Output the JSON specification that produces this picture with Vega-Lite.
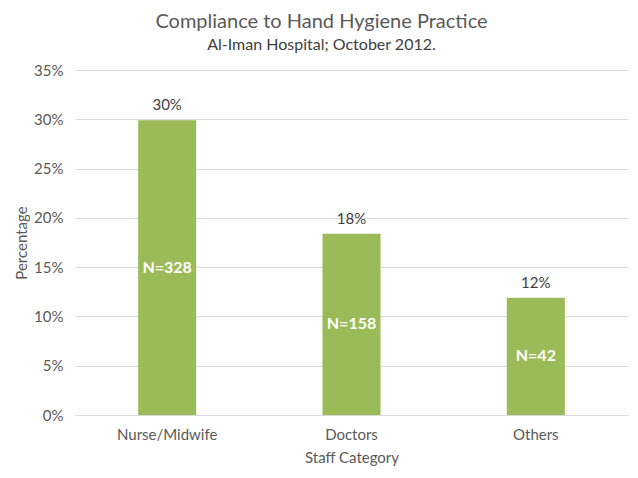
{
  "$schema": "https://vega.github.io/schema/vega-lite/v6.json",
  "autosize": "none",
  "width": 553,
  "height": 345,
  "padding": {"left": 75, "top": 70, "right": 10, "bottom": 63},
  "background": "white",
  "config": {
    "font": "Lato",
    "view": {"stroke": null}
  },
  "title": {
    "text": "Compliance to Hand Hygiene Practice",
    "subtitle": "Al-Iman Hospital; October 2012.",
    "font": "Lato",
    "fontSize": 20,
    "fontWeight": "normal",
    "color": "#595959",
    "subtitleFont": "Lato",
    "subtitleFontSize": 16,
    "subtitleColor": "#404040",
    "subtitlePadding": 5,
    "anchor": "middle",
    "dx": -30,
    "offset": 10
  },
  "data": {
    "values": [
      {"category": "Nurse/Midwife", "pct": 0.299, "n": "N=328"},
      {"category": "Doctors", "pct": 0.184, "n": "N=158"},
      {"category": "Others", "pct": 0.119, "n": "N=42"}
    ]
  },
  "encoding": {
    "x": {
      "field": "category",
      "type": "nominal",
      "sort": null,
      "title": "Staff Category",
      "scale": {"paddingInner": 0.685, "paddingOuter": 0.3425},
      "axis": {
        "labelAngle": 0,
        "labelFont": "Lato",
        "labelFontSize": 15,
        "labelColor": "#595959",
        "labelPadding": 12,
        "ticks": false,
        "domainColor": "#d9d9d9",
        "titleFont": "Lato",
        "titleFontSize": 15,
        "titleFontWeight": "normal",
        "titleColor": "#595959",
        "titlePadding": 8
      }
    }
  },
  "layer": [
    {
      "mark": {"type": "bar", "color": "#9bbb59"},
      "encoding": {
        "y": {
          "field": "pct",
          "type": "quantitative",
          "title": "Percentage",
          "scale": {"domain": [0, 0.35]},
          "axis": {
            "values": [0, 0.05, 0.1, 0.15, 0.2, 0.25, 0.3, 0.35],
            "format": ".0%",
            "labelFont": "Lato",
            "labelFontSize": 15,
            "labelColor": "#595959",
            "labelPadding": 12,
            "ticks": false,
            "domain": false,
            "gridColor": "#d9d9d9",
            "titleFont": "Lato",
            "titleFontSize": 15,
            "titleFontWeight": "normal",
            "titleColor": "#595959",
            "titlePadding": 4
          }
        }
      }
    },
    {
      "mark": {"type": "text", "baseline": "bottom", "dy": -7, "fontSize": 15, "color": "#404040", "font": "Lato"},
      "encoding": {
        "y": {"field": "pct", "type": "quantitative", "scale": {"domain": [0, 0.35]}, "axis": null},
        "text": {"field": "pct", "type": "quantitative", "format": ".0%"}
      }
    },
    {
      "mark": {"type": "text", "baseline": "middle", "fontSize": 16, "fontWeight": "bold", "color": "white", "font": "Lato"},
      "encoding": {
        "y": {"field": "pct", "type": "quantitative", "scale": {"domain": [0, 0.7]}, "axis": null},
        "text": {"field": "n", "type": "nominal"}
      }
    }
  ],
  "resolve": {"scale": {"y": "independent"}}
}
